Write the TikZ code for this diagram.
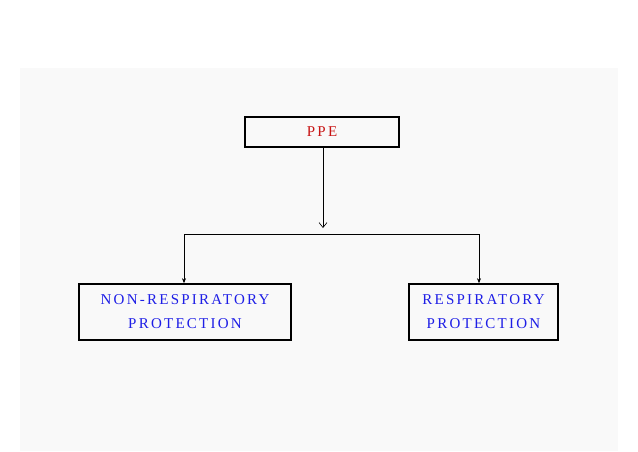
\documentclass[tikz,border=0pt]{standalone}
\usepackage{fontspec}
\setmainfont[LetterSpace=15]{Liberation Serif}
\usetikzlibrary{arrows.meta}
\definecolor{ppered}{RGB}{200,20,20}
\definecolor{ppeblue}{RGB}{30,30,230}
\begin{document}
\begin{tikzpicture}
[x=1pt,y=-1pt,
  boxdecorate/.style={draw,line width=1.6pt,inner sep=0pt,font=\fontsize{15}{24}\selectfont,align=center},%
  linedecorate/.style={-{Stealth[length=5pt,width=4pt]},line width=0.6pt}]
\useasboundingbox (0,0) rectangle (638,451);
\fill[gray!5] (20,68) rectangle (618,451);
%% boxes
\node (ppe) [boxdecorate,minimum width=154pt,minimum height=30pt,text=ppered] at (322,132) {PPE};
\node (nonresp) [boxdecorate,minimum width=212pt,minimum height=56pt,text=ppeblue] at (185,312) {NON-RESPIRATORY\\PROTECTION};
\node (resp) [boxdecorate,minimum width=149pt,minimum height=56pt,text=ppeblue] at (483.5,312) {RESPIRATORY\\ PROTECTION};
%% connectors
\coordinate (split) at (323,228);
\coordinate (left) at (184,234);
\coordinate (right) at (479,234);
\draw[-{Straight Barb[length=5pt,width=8pt]},line width=0.6pt] (ppe.south -| split) -- (split);
\draw[line width=0.6pt] (left) -- (right);
\draw[linedecorate] (left) -- (left |- nonresp.north);
\draw[linedecorate] (right) -- (right |- resp.north);
\end{tikzpicture}
\end{document}
